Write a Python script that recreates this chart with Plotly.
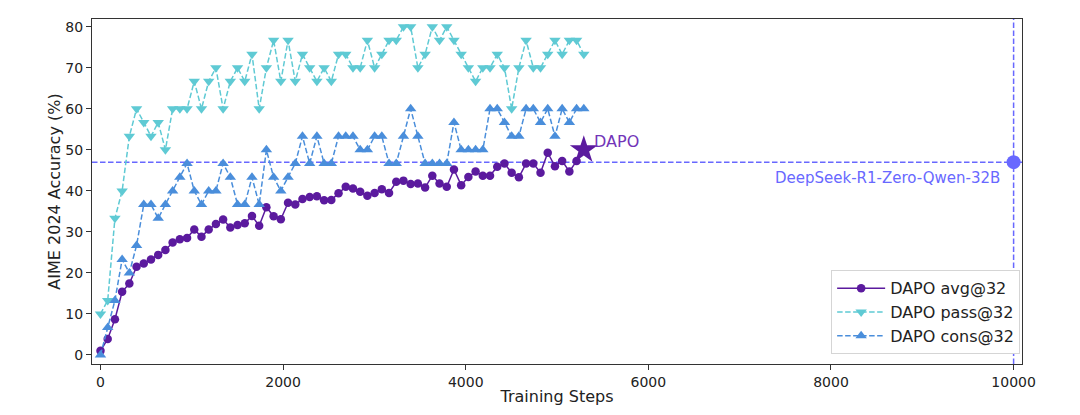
import plotly.graph_objects as go

EVAL_INTERVAL = 79
N_POINTS = 68
steps = list(range(0, N_POINTS * EVAL_INTERVAL, EVAL_INTERVAL))

avg_at_32 = [1.0, 3.9, 8.7, 15.4, 17.4, 21.5, 22.3, 23.3, 24.4, 25.6,
             27.4, 28.2, 28.5, 30.6, 28.8, 30.6, 31.9, 33.0, 31.1, 31.7,
             32.1, 33.9, 31.5, 36.0, 33.8, 33.1, 37.1, 36.7, 38.0, 38.5,
             38.7, 37.7, 37.8, 39.4, 41.0, 40.6, 39.8, 38.8, 39.5, 40.4,
             39.5, 42.2, 42.5, 41.7, 41.8, 40.8, 43.7, 41.8, 41.0, 45.2,
             41.4, 43.4, 44.7, 43.7, 43.7, 45.9, 46.7, 44.4, 43.3, 46.7,
             46.7, 44.4, 49.3, 46.0, 47.3, 44.7, 47.3, 50.0]

pass_at_32 = [10.0, 13.3, 33.3, 40.0, 53.3, 60.0, 56.7, 53.3, 56.7, 50.0,
              60.0, 60.0, 60.0, 66.7, 60.0, 66.7, 70.0, 60.0, 66.7, 70.0,
              66.7, 73.3, 60.0, 70.0, 76.7, 66.7, 76.7, 66.7, 73.3, 70.0,
              66.7, 70.0, 66.7, 73.3, 73.3, 70.0, 70.0, 76.7, 70.0, 73.3,
              76.7, 76.7, 80.0, 80.0, 70.0, 73.3, 80.0, 76.7, 80.0, 76.7,
              73.3, 70.0, 66.7, 70.0, 70.0, 73.3, 70.0, 60.0, 70.0, 76.7,
              70.0, 70.0, 73.3, 76.7, 73.3, 76.7, 76.7, 73.3]

cons_at_32 = [0.0, 6.7, 13.3, 23.3, 20.0, 26.7, 36.7, 36.7, 33.3, 36.7,
              40.0, 43.3, 46.7, 40.0, 36.7, 40.0, 40.0, 46.7, 43.3, 36.7,
              36.7, 43.3, 36.7, 50.0, 43.3, 40.0, 43.3, 46.7, 53.3, 46.7,
              53.3, 46.7, 46.7, 53.3, 53.3, 53.3, 50.0, 50.0, 53.3, 53.3,
              46.7, 46.7, 53.3, 60.0, 53.3, 46.7, 46.7, 46.7, 46.7, 56.7,
              50.0, 50.0, 50.0, 50.0, 60.0, 60.0, 56.7, 53.3, 53.3, 60.0,
              60.0, 56.7, 60.0, 53.3, 60.0, 56.7, 60.0, 60.0]

DEEPSEEK_STEPS = 10000
DEEPSEEK_SCORE = 47
DEEPSEEK_LABEL = "DeepSeek-R1-Zero-Qwen-32B"

x_ticks = [0, 2000, 4000, 6000, 8000, 10000]
x_tick_labels = ["0", "2000", "4000", "6000", "8000", "10000"]
y_ticks = [0, 10, 20, 30, 40, 50, 60, 70, 80]

C_AVG = "#5B1A9E"
C_PASS = "#5FCAD4"
C_CONS = "#4A8EDB"
C_DS = "#6868FF"
C_DAPO_TXT = "#7234B8"
FONT = "DejaVu Sans"
DASH = "5.5px,2.5px"

fig = go.Figure()

# DeepSeek reference lines
fig.add_hline(y=DEEPSEEK_SCORE, line=dict(color=C_DS, width=1.5, dash=DASH), layer="below")
fig.add_vline(x=DEEPSEEK_STEPS, line=dict(color=C_DS, width=1.5, dash=DASH), layer="below")

n = len(avg_at_32)
fig.add_trace(go.Scatter(
    x=steps, y=avg_at_32, mode="lines+markers", name="DAPO avg@32",
    line=dict(color=C_AVG, width=1.5),
    marker=dict(color=C_AVG, size=[8.5] * (n - 1) + [21], opacity=1,
                symbol=["circle"] * (n - 1) + ["star"], line=dict(width=0)),
    cliponaxis=False,
))
fig.add_trace(go.Scatter(
    x=steps, y=pass_at_32, mode="lines+markers", name="DAPO pass@32",
    line=dict(color=C_PASS, width=1.5, dash=DASH),
    marker=dict(color=C_PASS, size=10, symbol="triangle-down", opacity=1, line=dict(width=0)),
    cliponaxis=False,
))
fig.add_trace(go.Scatter(
    x=steps, y=cons_at_32, mode="lines+markers", name="DAPO cons@32",
    line=dict(color=C_CONS, width=1.5, dash=DASH),
    marker=dict(color=C_CONS, size=10, symbol="triangle-up", opacity=1, line=dict(width=0)),
    cliponaxis=False,
))
fig.add_trace(go.Scatter(
    x=[DEEPSEEK_STEPS], y=[DEEPSEEK_SCORE], mode="markers", showlegend=False,
    marker=dict(color=C_DS, size=14, symbol="circle"), cliponaxis=False,
))

fig.add_annotation(x=steps[-1], y=avg_at_32[-1], text="DAPO", showarrow=False,
                   xanchor="left", yanchor="middle", xshift=8, yshift=8,
                   font=dict(family=FONT, size=16, color=C_DAPO_TXT))
fig.add_annotation(x=DEEPSEEK_STEPS, y=DEEPSEEK_SCORE, text=DEEPSEEK_LABEL, showarrow=False,
                   xanchor="right", yanchor="middle", xshift=-12, yshift=-16,
                   font=dict(family=FONT, size=15, color=C_DS))

axis_common = dict(showline=True, mirror=True, linecolor="#333333", linewidth=1,
                   ticks="outside", ticklen=5, tickcolor="#333333", showgrid=False,
                   zeroline=False, tickfont=dict(family=FONT, size=14, color="#222222"))

fig.update_layout(
    width=1080, height=415,
    margin=dict(l=92, r=58, t=19, b=51),
    paper_bgcolor="white", plot_bgcolor="white",
    font=dict(family=FONT, color="#222222"),
    xaxis=dict(range=[-93, 10092], tickvals=x_ticks, ticktext=x_tick_labels,
               title=dict(text="Training Steps", font=dict(family=FONT, size=16), standoff=2),
               **axis_common),
    yaxis=dict(range=[-2.2, 81.9], tickvals=y_ticks,
               title=dict(text="AIME 2024 Accuracy (%)", font=dict(family=FONT, size=16), standoff=0),
               **axis_common),
    legend=dict(x=0.998, y=0.028, xanchor="right", yanchor="bottom",
                bgcolor="white", bordercolor="#D5D5D5", borderwidth=1,
                font=dict(family=FONT, size=16, color="#222222"),
                tracegroupgap=0, itemwidth=48),
    showlegend=True,
)

fig.write_html("out.html", config={"displayModeBar": False})

# remove the default browser page margin so the figure sits at the window origin
with open("out.html", "r", encoding="utf-8") as f:
    html = f.read()
html = html.replace("<head>", "<head><style>html,body{margin:0;padding:0;overflow:hidden;}</style>", 1)
with open("out.html", "w", encoding="utf-8") as f:
    f.write(html)
